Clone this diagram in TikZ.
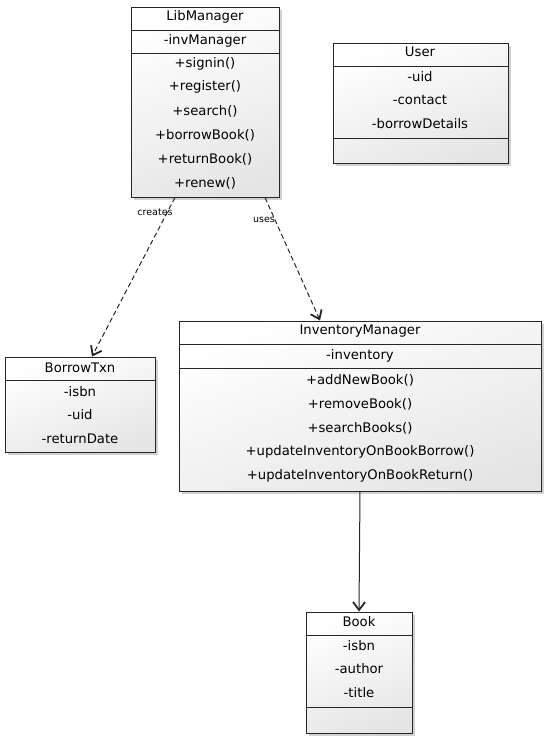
\documentclass[tikz,border=0pt]{standalone}
\usepackage{fontspec}
\setmainfont{DejaVu Sans}
\usetikzlibrary{arrows.meta,shadows}
\tikzset{
  cls/.style={draw=black!85, line width=1pt, inner sep=0pt,
    top color=white, bottom color=black!10, shading angle=20,
    drop shadow={shadow xshift=2.5pt, shadow yshift=-2.5pt, fill=black!30, opacity=0.6}},
  txt/.style={font=\fontsize{13.2}{15}\selectfont, inner sep=0pt, anchor=center},
  lbl/.style={font=\fontsize{9.5}{11}\selectfont, inner sep=0pt},
  sep/.style={draw=black!85, line width=1pt},
  dep/.style={draw=black!85, line width=1pt, dashed, dash pattern=on 5pt off 3pt, -{Straight Barb[length=8pt,width=12pt,line width=1.8pt]}},
  assoc/.style={draw=black!85, line width=1pt, -{Straight Barb[length=8pt,width=12pt,line width=1.8pt]}}
}
\begin{document}
\begin{tikzpicture}[x=1pt,y=-1pt]
\useasboundingbox (0,0) rectangle (547,739);
% LibManager
\node[cls, minimum width=148pt, minimum height=190pt] (lib) at (205,102) {};
\draw[sep] (lib.west |- 0,30) -- (lib.east |- 0,30);
\draw[sep] (lib.west |- 0,53) -- (lib.east |- 0,53);
\node[txt] (lib0) at (205,17) {LibManager};
\node[txt] (lib1) at (205,41) {-invManager};
\node[txt] (lib2) at (205,64) {+signin()};
\node[txt] (lib3) at (205,87) {+register()};
\node[txt] (lib4) at (205,111) {+search()};
\node[txt] (lib5) at (205,135) {+borrowBook()};
\node[txt] (lib6) at (205,159) {+returnBook()};
\node[txt] (lib7) at (205,183) {+renew()};
% User
\node[cls, minimum width=175pt, minimum height=120pt] (usr) at (420.5,103) {};
\draw[sep] (usr.west |- 0,66) -- (usr.east |- 0,66);
\draw[sep] (usr.west |- 0,138) -- (usr.east |- 0,138);
\node[txt] (usr0) at (420,52) {User};
\node[txt] (usr1) at (420,77) {-uid};
\node[txt] (usr2) at (420,100) {-contact};
\node[txt] (usr3) at (420,124) {-borrowDetails};
% BorrowTxn
\node[cls, minimum width=150pt, minimum height=95pt] (btx) at (80,404.5) {};
\draw[sep] (btx.west |- 0,380) -- (btx.east |- 0,380);
\node[txt] (btx0) at (80,368) {BorrowTxn};
\node[txt] (btx1) at (80,392) {-isbn};
\node[txt] (btx2) at (80,415) {-uid};
\node[txt] (btx3) at (80,439) {-returnDate};
% InventoryManager
\node[cls, minimum width=362pt, minimum height=170pt] (inv) at (360,406) {};
\draw[sep] (inv.west |- 0,344) -- (inv.east |- 0,344);
\draw[sep] (inv.west |- 0,368) -- (inv.east |- 0,368);
\node[txt] (inv0) at (360,331) {InventoryManager};
\node[txt] (inv1) at (360,356) {-inventory};
\node[txt] (inv2) at (360,380) {+addNewBook()};
\node[txt] (inv3) at (360,404) {+removeBook()};
\node[txt] (inv4) at (360,428) {+searchBooks()};
\node[txt] (inv5) at (360,452) {+updateInventoryOnBookBorrow()};
\node[txt] (inv6) at (360,476) {+updateInventoryOnBookReturn()};
% Book
\node[cls, minimum width=106pt, minimum height=121pt] (bk) at (359,672.5) {};
\draw[sep] (bk.west |- 0,635) -- (bk.east |- 0,635);
\draw[sep] (bk.west |- 0,707) -- (bk.east |- 0,707);
\node[txt] (bk0) at (359,622) {Book};
\node[txt] (bk1) at (359,646) {-isbn};
\node[txt] (bk2) at (359,669) {-author};
\node[txt] (bk3) at (359,693) {-title};
% connectors
\coordinate (c1s) at (lib.south -| 175,0);
\coordinate (c1e) at (btx.north -| 92,0);
\draw[dep] (c1s) -- (c1e);
\node[lbl] (lcr) at (155,212) {creates};
\coordinate (c2s) at (lib.south -| 265,0);
\coordinate (c2e) at (inv.north -| 320,0);
\draw[dep] (c2s) -- (c2e);
\node[lbl] (lus) at (264,220) {uses};
\draw[assoc] (inv.south) -- (bk.north);
\end{tikzpicture}
\end{document}
